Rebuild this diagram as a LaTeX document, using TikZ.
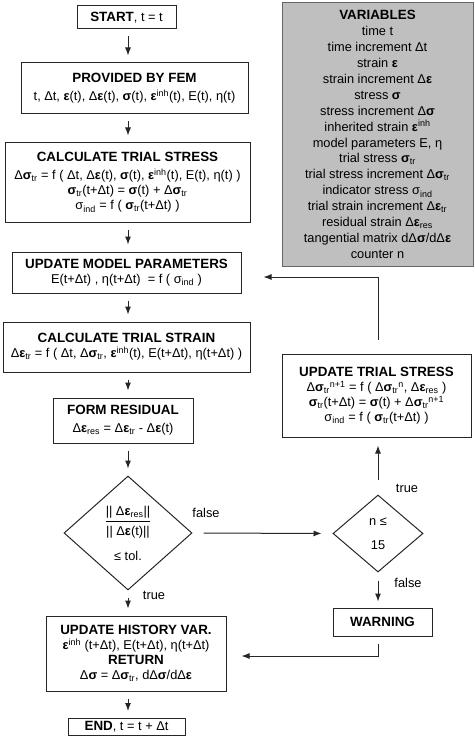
\documentclass[tikz,border=0pt]{standalone}
\usepackage{fontspec}
\setmainfont{Liberation Sans}
\usepackage{tikz}
\usetikzlibrary{shapes.geometric,arrows.meta,positioning}

\newcommand{\bsig}{\textbf{σ}}
\newcommand{\beps}{\textbf{ε}}
\newcommand{\tlo}[1]{\textsubscript{#1}}
\newcommand{\thi}[1]{\textsuperscript{#1}}
\newcommand{\ttl}[1]{{\fontsize{13.4}{15}\selectfont\bfseries #1}}

\begin{document}
\begin{tikzpicture}[x=1pt, y=-1pt,
    procbox/.style={draw=black!85, line width=1pt, align=center, inner sep=0pt, font=\fontsize{12.8}{15}\selectfont},
    decision/.style={diamond, draw=black!85, line width=1pt, align=center, inner sep=0pt, font=\fontsize{12.8}{15}\selectfont},
    flow/.style={draw=black!85, line width=1pt, -{Latex[length=8pt,width=6pt]}},
    lbl/.style={inner sep=0pt, font=\fontsize{12.8}{15}\selectfont}]
    \useasboundingbox (0,0) rectangle (474,746);
    \coordinate (axis) at (128,0);

    % Main column
    \node[procbox, minimum width=99pt, minimum height=23pt] (start) at (126.5,17.5) {\ttl{START}, t = t};
    \node[procbox, minimum width=227pt, minimum height=51pt] (fem) at (134.5,88.5) {
        \ttl{PROVIDED BY FEM}\\[3pt]
        t, Δt, \beps(t), Δ\beps(t), \bsig(t), \beps\thi{inh}(t), E(t), η(t)};
    \node[procbox, minimum width=245pt, minimum height=79pt] (cstress) at (127.5,182.5) {
        \ttl{CALCULATE TRIAL STRESS}\\[3pt]
        Δ\bsig\tlo{tr} = f ( Δt, Δ\beps(t), \bsig(t), \beps\thi{inh}(t), E(t), η(t) )\\
        \bsig\tlo{tr}(t+Δt) = \bsig(t) + Δ\bsig\tlo{tr}\\
        σ\tlo{ind} = f ( \bsig\tlo{tr}(t+Δt) )};
    \node[procbox, minimum width=229pt, minimum height=41pt] (upmodel) at (126.5,272.5) {
        \ttl{UPDATE MODEL PARAMETERS}\\
        E(t+Δt) , η(t+Δt) \ = f ( σ\tlo{ind} )};
    \node[procbox, minimum width=247pt, minimum height=50pt] (cstrain) at (126.5,347) {
        \ttl{CALCULATE TRIAL STRAIN}\\
        Δ\beps\tlo{tr} = f ( Δt, Δ\bsig\tlo{tr}, \beps\thi{inh}(t), E(t+Δt), η(t+Δt) )};
    \node[procbox, minimum width=140pt, minimum height=45pt] (resid) at (123,420.5) {
        \ttl{FORM RESIDUAL}\\[3pt]
        Δ\beps\tlo{res} = Δ\beps\tlo{tr} - Δ\beps(t)};
    \node[decision, minimum width=128pt, minimum height=114pt] (conv) at (128,533) {
        \begin{tabular}{@{}c@{}}|| Δ\beps\tlo{res}||\\[1pt]\hline\rule{0pt}{14pt}|| Δ\beps(t)||\end{tabular}\\[10pt]
        ≤ tol.};
    \node[procbox, minimum width=180pt, minimum height=75pt] (hist) at (136,653.5) {
        \ttl{UPDATE HISTORY VAR.}\\
        \beps\thi{inh} (t+Δt), E(t+Δt), η(t+Δt)\\
        \ttl{RETURN}\\
        Δ\bsig{} = Δ\bsig\tlo{tr}, dΔ\bsig/dΔ\beps};
    \node[procbox, minimum width=117pt, minimum height=17pt] (stop) at (126.5,727) {\ttl{END}, t = t + Δt};

    % Variables
    \node[procbox, fill=black!25, draw=black!60, minimum width=191pt, minimum height=263pt,
        font=\fontsize{12.8}{15.9}\selectfont] (vars) at (377.5,134.5) {
        \ttl{VARIABLES}\\
        time t\\
        time increment Δt\\
        strain \beps\\
        strain increment Δ\beps\\
        stress \bsig\\
        stress increment Δ\bsig\\
        inherited strain \beps\thi{inh}\\
        model parameters E, η\\
        trial stress \bsig\tlo{tr}\\
        trial stress increment Δ\bsig\tlo{tr}\\
        indicator stress σ\tlo{ind}\\
        trial strain increment Δ\beps\tlo{tr}\\
        residual strain Δ\beps\tlo{res}\\
        tangential matrix dΔ\bsig/dΔ\beps\\
        counter n};

    % Iteration branch
    \node[procbox, minimum width=189pt, minimum height=83pt] (utrial) at (376.5,395.5) {
        \ttl{UPDATE TRIAL STRESS}\\
        Δ\bsig\tlo{tr}\thi{n+1} = f ( Δ\bsig\tlo{tr}\thi{n}, Δ\beps\tlo{res} )\\
        \bsig\tlo{tr}(t+Δt) = \bsig(t) + Δ\bsig\tlo{tr}\thi{n+1}\\
        σ\tlo{ind} = f ( \bsig\tlo{tr}(t+Δt) )};
    \node[decision, minimum width=90pt, minimum height=77pt] (count) at (378,533.5) {n ≤\\[9pt]15};
    \node[procbox, minimum width=99pt, minimum height=28pt] (warn) at (382.5,622) {\ttl{WARNING}};

    % Labels
    \node[lbl] (cfalse) at (206,513) {false};
    \node[lbl] (ctrue) at (154,595) {true};
    \node[lbl] (ntrue) at (407,488) {true};
    \node[lbl] (nfalse) at (408,583) {false};

    % Connectors
    \foreach \a/\b in {start/fem, fem/cstress, cstress/upmodel, upmodel/cstrain, cstrain/resid, resid/conv, conv/hist, hist/stop}
        \draw[flow, shorten <=7pt, shorten >=7pt] (\a.south -| axis) -- (\b.north -| axis);
    \draw[flow, shorten <=11pt, shorten >=11pt] (conv.east) -- (count.west);
    \draw[flow, shorten <=15pt, shorten >=8pt] (count.north) -- (count.north |- utrial.south);
    \draw[flow, shorten <=14pt, shorten >=22pt] (utrial.north -| count.north) |- ([yshift=-4.5pt]upmodel.east);
    \draw[flow, shorten <=8pt, shorten >=6pt] (count.south) -- (count.south |- warn.north);
    \draw[flow, shorten <=7pt, shorten >=15pt] (warn.south -| count.south) |- ([yshift=-2.5pt]hist.east);
\end{tikzpicture}
\end{document}
